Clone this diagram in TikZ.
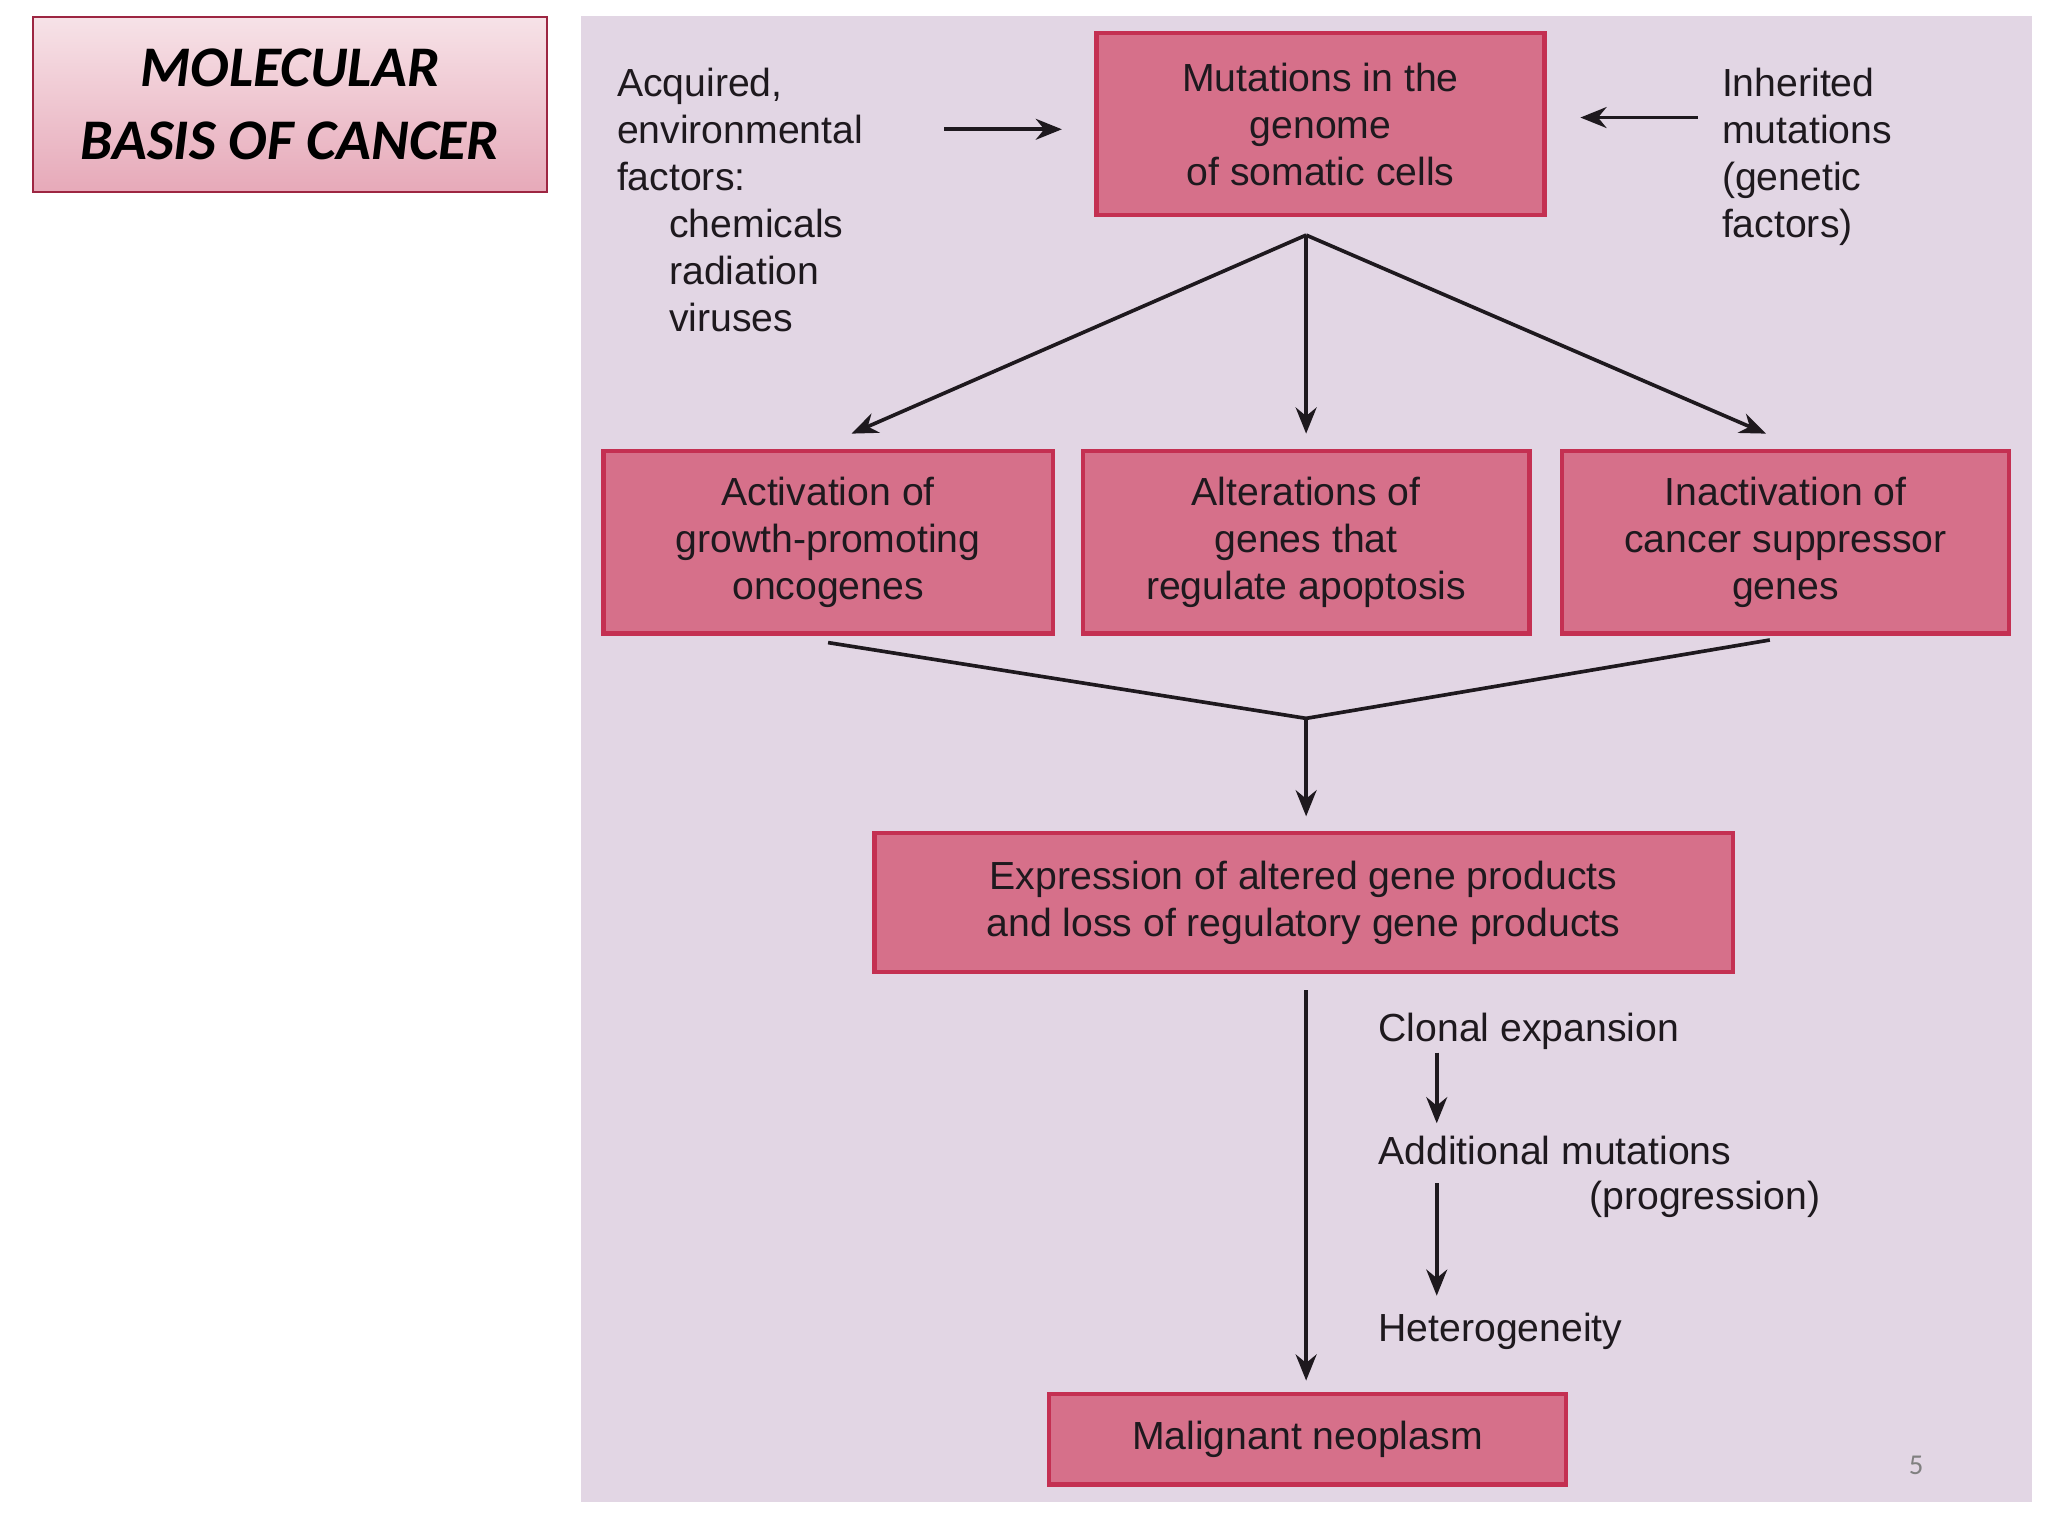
\documentclass[tikz,border=0pt]{standalone}
\usepackage{fontspec}
\setmainfont{Liberation Sans}
\newfontfamily\titlefont{Carlito}
\usetikzlibrary{arrows.meta}
\definecolor{panel}{RGB}{226,214,228}
\definecolor{boxfill}{RGB}{214,112,138}
\definecolor{boxline}{RGB}{196,48,82}
\definecolor{ink}{RGB}{30,25,30}
\tikzset{
  cbox/.style={draw=boxline,line width=1.6pt,fill=boxfill,text=ink,align=center,font=\fontsize{15}{18}\selectfont,inner sep=0pt},
  lbl/.style={text=ink,font=\fontsize{15}{18}\selectfont,inner sep=0pt},
  arr/.style={draw=ink,line width=1.4pt,-{Stealth[length=10pt,width=8pt]}},
  ln/.style={draw=ink,line width=1.4pt}
}
\begin{document}
\begin{tikzpicture}[x=0.5pt,y=-0.5pt]
\useasboundingbox (0,0) rectangle (1568,1176);
\fill[white] (0,0) rectangle (1568,1176);
\fill[panel] (445,12) rectangle (1556,1150);
% title
\node[draw=boxline!80!black,line width=0.8pt,top color=white!80!boxfill,bottom color=boxfill!60,minimum width=196.5pt,minimum height=67pt,align=center,font=\titlefont\bfseries\itshape\fontsize{22}{28}\selectfont,drop shadow/.style={}] (title) at (222,80) {MOLECULAR\\BASIS OF CANCER};
% boxes
\node[cbox,minimum width=171.5pt,minimum height=69.5pt] (top) at (1011,95) {Mutations in the\\genome\\of somatic cells};
\node[cbox,minimum width=172pt,minimum height=70pt] (act) at (634,415) {Activation of\\growth-promoting\\oncogenes};
\node[cbox,minimum width=171pt,minimum height=70pt] (alt) at (1000,415) {Alterations of\\genes that\\regulate apoptosis};
\node[cbox,minimum width=171pt,minimum height=70pt] (inact) at (1367,415) {Inactivation of\\cancer suppressor\\genes};
\node[cbox,minimum width=328.5pt,minimum height=53pt] (expr) at (998,691) {Expression of altered gene products\\and loss of regulatory gene products};
\node[cbox,minimum width=198pt,minimum height=34.5pt] (mal) at (1001,1102) {Malignant neoplasm};
% side labels
\node[lbl,anchor=north west,align=left] (acq) at (472,52) {Acquired,\\environmental\\factors:\\\hspace*{20pt}chemicals\\\hspace*{20pt}radiation\\\hspace*{20pt}viruses};
\node[lbl,anchor=north west,align=left] (inh) at (1318,52) {Inherited\\mutations\\(genetic\\factors)};
\coordinate (a1) at (723,99); \coordinate (a2) at (813,99);
\draw[arr] (a1) -- (a2);
\coordinate (b1) at (1300,90); \coordinate (b2) at (1210,90);
\draw[arr] (b1) -- (b2);
% splits
\coordinate (s) at (1000,180);
\coordinate (e1) at (652,332); \coordinate (e2) at (1000,332); \coordinate (e3) at (1352,332);
\draw[arr] (s) -- (e1); \draw[arr] (s) -- (e2); \draw[arr] (s) -- (e3);
\coordinate (c1) at (634,492); \coordinate (c3) at (1355,490); \coordinate (m) at (1000,550); \coordinate (m2) at (1000,625);
\draw[ln,line join=miter] (c1) -- (m) -- (c3);
\draw[arr] (m) -- (m2);
\coordinate (d1) at (1000,758); \coordinate (d2) at (1000,1057);
\draw[arr] (d1) -- (d2);
% progression
\node[lbl,anchor=west] (clon) at (1055,790) {Clonal expansion};
\node[lbl,anchor=west] (add) at (1055,881) {Additional mutations};
\node[lbl,anchor=east] (prog) at (1394,918) {(progression)};
\node[lbl,anchor=west] (het) at (1055,1019) {Heterogeneity};
\coordinate (p1) at (1100,806); \coordinate (p2) at (1100,860);
\coordinate (q1) at (1100,906); \coordinate (q2) at (1100,992);
\draw[arr] (p1) -- (p2); \draw[arr] (q1) -- (q2);
\node[text=gray,font=\titlefont\fontsize{11}{13}\selectfont] (num) at (1467,1122) {5};
\end{tikzpicture}
\end{document}
